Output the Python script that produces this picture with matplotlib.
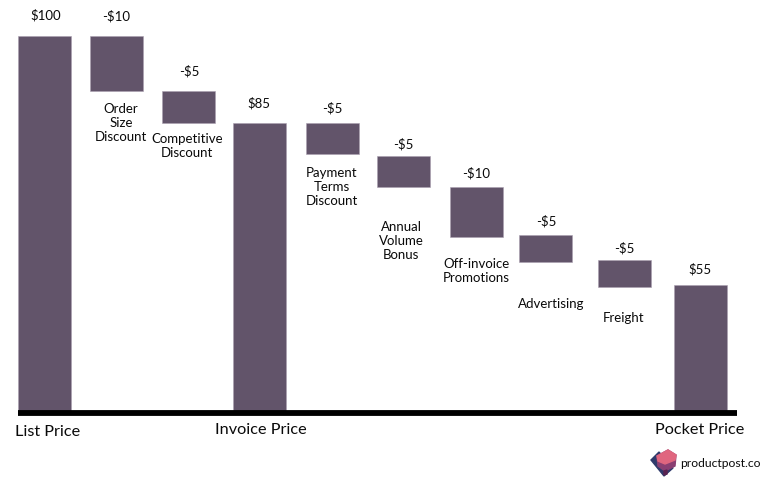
import matplotlib
matplotlib.use('Agg')
import matplotlib.pyplot as plt
from matplotlib.patches import Polygon

categories = ['List Price', 'Order\nSize\nDiscount', 'Competitive\nDiscount', 'Invoice Price',
              'Payment\nTerms\nDiscount', 'Annual\nVolume\nBonus', 'Off-invoice\nPromotions',
              'Advertising', 'Freight', 'Pocket Price']
value_labels = ['$100', '-$10', '-$5', '$85', '-$5', '-$5', '-$10', '-$5', '-$5', '$55']
bar_top = [100, 100, 85.1, 76.8, 76.7, 67.9, 59.7, 46.9, 40.1, 33.5]
bar_bottom = [0, 85.1, 76.8, 0, 68.4, 59.7, 46.3, 39.6, 32.9, 0]
bar_center = [44.5, 116.5, 188, 259.3, 332, 403, 476.3, 545.8, 624.5, 700.5]

W, H = 769, 484
PX_PER_UNIT = 3.755
BASE_Y = 411
BAR_COLOR = '#62546A'
EDGE_COLOR = '#A99FB0'
TEXT_COLOR = '#0A0A0A'

plt.rcParams['font.family'] = ['Lato', 'DejaVu Sans']

fig = plt.figure(figsize=(W / 100, H / 100), dpi=100)
ax = fig.add_axes([0, 0, 1, 1])
ax.set_xlim(0, W)
# y axis runs in bar units, baseline sits at pixel row BASE_Y
ax.set_ylim(-(H - BASE_Y) / PX_PER_UNIT, BASE_Y / PX_PER_UNIT)
ax.axis('off')

heights = [t - b for t, b in zip(bar_top, bar_bottom)]
ax.bar(bar_center, heights, width=53, bottom=bar_bottom, color=BAR_COLOR,
       edgecolor=EDGE_COLOR, linewidth=0.4, zorder=2)


def px(x, y):
    return x, (BASE_Y - y) / PX_PER_UNIT


# baseline
ax.plot(*zip(px(18, 413), px(737, 413)), color='black', lw=4.2, solid_capstyle='butt', zorder=3)

# value labels: pixel positions of label centres
value_xy = [(45.5, 15), (116, 16.5), (189, 71.5), (259, 103.5), (332, 108.5),
            (403, 144), (476, 173), (546, 221), (624, 248), (700, 269)]
for label, (x, y) in zip(value_labels, value_xy):
    ax.text(*px(x, y), label, ha='center', va='center', fontsize=9.5, color=TEXT_COLOR)

# step names
name_xy = {1: (121, 123), 2: (187, 146), 4: (332, 187), 5: (401, 241), 6: (476, 271),
           7: (551, 304), 8: (624, 318)}
for i, (x, y) in name_xy.items():
    ax.text(*px(x, y), categories[i], ha='center', va='center', fontsize=9.5,
            color=TEXT_COLOR, linespacing=1.23)

# totals under the baseline
for i, x in [(0, 48), (3, 261), (9, 699.5)]:
    ax.text(*px(x, 432 if i == 0 else 430.5), categories[i], ha='center', va='center',
            fontsize=11.7, color=TEXT_COLOR)

# logo
ax.add_patch(Polygon([px(651, 460), px(659, 452), px(673, 468), px(664, 476)], color='#2F3A6B', zorder=4))
ax.add_patch(Polygon([px(657, 456), px(668, 450), px(676, 455), px(675, 466), px(665, 471), px(658, 466)],
                     color='#8A3F72', zorder=5))
ax.add_patch(Polygon([px(657, 456), px(668, 450), px(676, 455), px(675, 460), px(665, 464), px(658, 461)],
                     color='#E0667F', zorder=6))
ax.add_patch(Polygon([px(664, 471), px(667, 470), px(667, 474), px(664, 475)], color='#5A2350', zorder=5))
ax.text(*px(680, 463.5), 'productpost.co', ha='left', va='center', fontsize=8.7, color=TEXT_COLOR)

fig.savefig('out.png', dpi=100)
